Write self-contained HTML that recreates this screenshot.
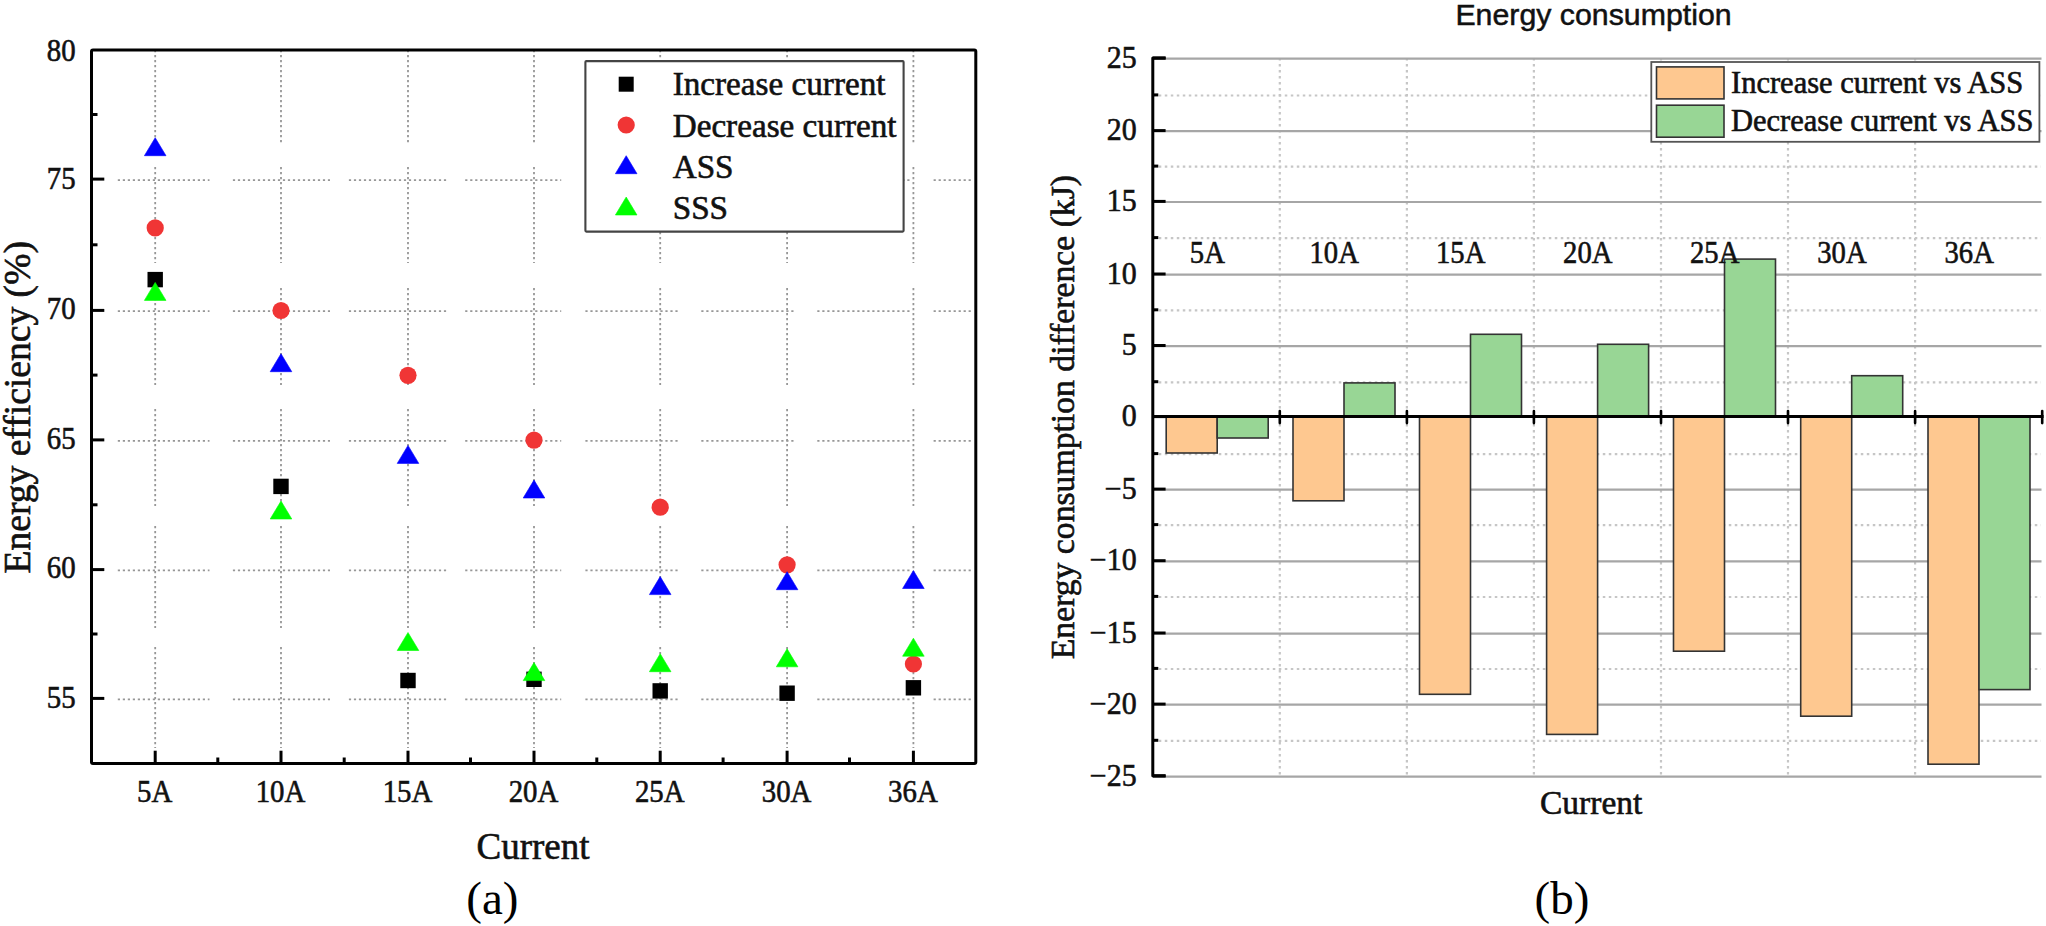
<!DOCTYPE html>
<html><head><meta charset="utf-8"><title>Energy efficiency and consumption</title>
<style>
html,body{margin:0;padding:0;background:#fff;}
svg{display:block;}
.gl{stroke:#979797;stroke-width:1.8;stroke-dasharray:2.2 2.8;}
.gd{stroke:#c6c6c6;stroke-width:2.2;stroke-dasharray:2.5 3.5;}
.gs{stroke:#a6a6a6;stroke-width:2.2;}
.tk{stroke:#000;stroke-width:3;}
text{font-family:"Liberation Serif", "Times New Roman", serif;fill:#111;stroke:#111;stroke-width:0.6px;}
.lt{font-size:30px;}
.lx{font-size:31px;}
.rt{font-size:31.5px;}
.rc{font-size:31px;}
.lyt{font-size:37.6px;}
.ryt{font-size:33.7px;}
.lg{font-size:33.2px;}
.rlg{font-size:30.5px;}
.lat{font-size:37px;}
.rat{font-size:33.5px;}
.cap{font-size:47px;fill:#000;stroke:none;}
.ttl{font-family:"Liberation Sans", Arial, sans-serif;font-size:30.3px;stroke-width:0.5px;}
</style></head>
<body>
<svg width="2046" height="926" viewBox="0 0 2046 926">
<rect width="2046" height="926" fill="#fff"/>
<line x1="155.2" y1="50" x2="155.2" y2="143" class="gl"/>
<line x1="155.2" y1="167" x2="155.2" y2="263" class="gl"/>
<line x1="155.2" y1="288" x2="155.2" y2="385" class="gl"/>
<line x1="155.2" y1="409" x2="155.2" y2="506" class="gl"/>
<line x1="155.2" y1="526" x2="155.2" y2="628" class="gl"/>
<line x1="155.2" y1="647" x2="155.2" y2="748" class="gl"/>
<line x1="281.0" y1="50" x2="281.0" y2="143" class="gl"/>
<line x1="281.0" y1="167" x2="281.0" y2="263" class="gl"/>
<line x1="281.0" y1="288" x2="281.0" y2="385" class="gl"/>
<line x1="281.0" y1="409" x2="281.0" y2="506" class="gl"/>
<line x1="281.0" y1="526" x2="281.0" y2="628" class="gl"/>
<line x1="281.0" y1="647" x2="281.0" y2="748" class="gl"/>
<line x1="408.0" y1="50" x2="408.0" y2="143" class="gl"/>
<line x1="408.0" y1="167" x2="408.0" y2="263" class="gl"/>
<line x1="408.0" y1="288" x2="408.0" y2="385" class="gl"/>
<line x1="408.0" y1="409" x2="408.0" y2="506" class="gl"/>
<line x1="408.0" y1="526" x2="408.0" y2="628" class="gl"/>
<line x1="408.0" y1="647" x2="408.0" y2="748" class="gl"/>
<line x1="534.0" y1="50" x2="534.0" y2="143" class="gl"/>
<line x1="534.0" y1="167" x2="534.0" y2="263" class="gl"/>
<line x1="534.0" y1="288" x2="534.0" y2="385" class="gl"/>
<line x1="534.0" y1="409" x2="534.0" y2="506" class="gl"/>
<line x1="534.0" y1="526" x2="534.0" y2="628" class="gl"/>
<line x1="534.0" y1="647" x2="534.0" y2="748" class="gl"/>
<line x1="660.2" y1="50" x2="660.2" y2="143" class="gl"/>
<line x1="660.2" y1="167" x2="660.2" y2="263" class="gl"/>
<line x1="660.2" y1="288" x2="660.2" y2="385" class="gl"/>
<line x1="660.2" y1="409" x2="660.2" y2="506" class="gl"/>
<line x1="660.2" y1="526" x2="660.2" y2="628" class="gl"/>
<line x1="660.2" y1="647" x2="660.2" y2="748" class="gl"/>
<line x1="787.1" y1="50" x2="787.1" y2="143" class="gl"/>
<line x1="787.1" y1="167" x2="787.1" y2="263" class="gl"/>
<line x1="787.1" y1="288" x2="787.1" y2="385" class="gl"/>
<line x1="787.1" y1="409" x2="787.1" y2="506" class="gl"/>
<line x1="787.1" y1="526" x2="787.1" y2="628" class="gl"/>
<line x1="787.1" y1="647" x2="787.1" y2="748" class="gl"/>
<line x1="913.4" y1="50" x2="913.4" y2="143" class="gl"/>
<line x1="913.4" y1="167" x2="913.4" y2="263" class="gl"/>
<line x1="913.4" y1="288" x2="913.4" y2="385" class="gl"/>
<line x1="913.4" y1="409" x2="913.4" y2="506" class="gl"/>
<line x1="913.4" y1="526" x2="913.4" y2="628" class="gl"/>
<line x1="913.4" y1="647" x2="913.4" y2="748" class="gl"/>
<line x1="117.8" y1="180.1" x2="209.5" y2="180.1" class="gl"/>
<line x1="232.9" y1="180.1" x2="330.0" y2="180.1" class="gl"/>
<line x1="348.9" y1="180.1" x2="446.1" y2="180.1" class="gl"/>
<line x1="465.2" y1="180.1" x2="561.2" y2="180.1" class="gl"/>
<line x1="585.4" y1="180.1" x2="677.8" y2="180.1" class="gl"/>
<line x1="701.3" y1="180.1" x2="793.6" y2="180.1" class="gl"/>
<line x1="817.3" y1="180.1" x2="909.8" y2="180.1" class="gl"/>
<line x1="933.6" y1="180.1" x2="971.1" y2="180.1" class="gl"/>
<line x1="117.8" y1="311.2" x2="209.5" y2="311.2" class="gl"/>
<line x1="232.9" y1="311.2" x2="330.0" y2="311.2" class="gl"/>
<line x1="348.9" y1="311.2" x2="446.1" y2="311.2" class="gl"/>
<line x1="465.2" y1="311.2" x2="561.2" y2="311.2" class="gl"/>
<line x1="585.4" y1="311.2" x2="677.8" y2="311.2" class="gl"/>
<line x1="701.3" y1="311.2" x2="793.6" y2="311.2" class="gl"/>
<line x1="817.3" y1="311.2" x2="909.8" y2="311.2" class="gl"/>
<line x1="933.6" y1="311.2" x2="971.1" y2="311.2" class="gl"/>
<line x1="117.8" y1="440.9" x2="209.5" y2="440.9" class="gl"/>
<line x1="232.9" y1="440.9" x2="330.0" y2="440.9" class="gl"/>
<line x1="348.9" y1="440.9" x2="446.1" y2="440.9" class="gl"/>
<line x1="465.2" y1="440.9" x2="561.2" y2="440.9" class="gl"/>
<line x1="585.4" y1="440.9" x2="677.8" y2="440.9" class="gl"/>
<line x1="701.3" y1="440.9" x2="793.6" y2="440.9" class="gl"/>
<line x1="817.3" y1="440.9" x2="909.8" y2="440.9" class="gl"/>
<line x1="933.6" y1="440.9" x2="971.1" y2="440.9" class="gl"/>
<line x1="117.8" y1="570.4" x2="209.5" y2="570.4" class="gl"/>
<line x1="232.9" y1="570.4" x2="330.0" y2="570.4" class="gl"/>
<line x1="348.9" y1="570.4" x2="446.1" y2="570.4" class="gl"/>
<line x1="465.2" y1="570.4" x2="561.2" y2="570.4" class="gl"/>
<line x1="585.4" y1="570.4" x2="677.8" y2="570.4" class="gl"/>
<line x1="701.3" y1="570.4" x2="793.6" y2="570.4" class="gl"/>
<line x1="817.3" y1="570.4" x2="909.8" y2="570.4" class="gl"/>
<line x1="933.6" y1="570.4" x2="971.1" y2="570.4" class="gl"/>
<line x1="117.8" y1="699.3" x2="209.5" y2="699.3" class="gl"/>
<line x1="232.9" y1="699.3" x2="330.0" y2="699.3" class="gl"/>
<line x1="348.9" y1="699.3" x2="446.1" y2="699.3" class="gl"/>
<line x1="465.2" y1="699.3" x2="561.2" y2="699.3" class="gl"/>
<line x1="585.4" y1="699.3" x2="677.8" y2="699.3" class="gl"/>
<line x1="701.3" y1="699.3" x2="793.6" y2="699.3" class="gl"/>
<line x1="817.3" y1="699.3" x2="909.8" y2="699.3" class="gl"/>
<line x1="933.6" y1="699.3" x2="971.1" y2="699.3" class="gl"/>
<rect x="91.5" y="50" width="884.3" height="713.5" rx="1.5" fill="none" stroke="#000" stroke-width="3" stroke-linejoin="round"/>
<text transform="translate(75.6,60.5) scale(0.93,1)" class="lx" text-anchor="end">80</text>
<line x1="91.5" y1="179.1" x2="104.3" y2="179.1" class="tk"/>
<text transform="translate(75.6,189.2) scale(0.93,1)" class="lx" text-anchor="end">75</text>
<line x1="91.5" y1="310.4" x2="104.3" y2="310.4" class="tk"/>
<text transform="translate(75.6,319.3) scale(0.93,1)" class="lx" text-anchor="end">70</text>
<line x1="91.5" y1="439.9" x2="104.3" y2="439.9" class="tk"/>
<text transform="translate(75.6,448.7) scale(0.93,1)" class="lx" text-anchor="end">65</text>
<line x1="91.5" y1="569.6" x2="104.3" y2="569.6" class="tk"/>
<text transform="translate(75.6,578.3) scale(0.93,1)" class="lx" text-anchor="end">60</text>
<line x1="91.5" y1="698.4" x2="104.3" y2="698.4" class="tk"/>
<text transform="translate(75.6,707.8) scale(0.93,1)" class="lx" text-anchor="end">55</text>
<line x1="91.5" y1="114.5" x2="97.5" y2="114.5" class="tk"/>
<line x1="91.5" y1="244.8" x2="97.5" y2="244.8" class="tk"/>
<line x1="91.5" y1="375.1" x2="97.5" y2="375.1" class="tk"/>
<line x1="91.5" y1="504.8" x2="97.5" y2="504.8" class="tk"/>
<line x1="91.5" y1="634.0" x2="97.5" y2="634.0" class="tk"/>
<line x1="155.2" y1="763.5" x2="155.2" y2="750.7" class="tk"/>
<text transform="translate(154.7,801.9) scale(0.93,1)" class="lx" text-anchor="middle">5A</text>
<line x1="281.0" y1="763.5" x2="281.0" y2="750.7" class="tk"/>
<text transform="translate(280.5,801.9) scale(0.93,1)" class="lx" text-anchor="middle">10A</text>
<line x1="408.0" y1="763.5" x2="408.0" y2="750.7" class="tk"/>
<text transform="translate(407.5,801.9) scale(0.93,1)" class="lx" text-anchor="middle">15A</text>
<line x1="534.0" y1="763.5" x2="534.0" y2="750.7" class="tk"/>
<text transform="translate(533.5,801.9) scale(0.93,1)" class="lx" text-anchor="middle">20A</text>
<line x1="660.2" y1="763.5" x2="660.2" y2="750.7" class="tk"/>
<text transform="translate(659.7,801.9) scale(0.93,1)" class="lx" text-anchor="middle">25A</text>
<line x1="787.1" y1="763.5" x2="787.1" y2="750.7" class="tk"/>
<text transform="translate(786.6,801.9) scale(0.93,1)" class="lx" text-anchor="middle">30A</text>
<line x1="913.4" y1="763.5" x2="913.4" y2="750.7" class="tk"/>
<text transform="translate(912.9,801.9) scale(0.93,1)" class="lx" text-anchor="middle">36A</text>
<line x1="217.8" y1="763.5" x2="217.8" y2="757.5" class="tk"/>
<line x1="344.2" y1="763.5" x2="344.2" y2="757.5" class="tk"/>
<line x1="470.5" y1="763.5" x2="470.5" y2="757.5" class="tk"/>
<line x1="596.8" y1="763.5" x2="596.8" y2="757.5" class="tk"/>
<line x1="723.1" y1="763.5" x2="723.1" y2="757.5" class="tk"/>
<line x1="849.5" y1="763.5" x2="849.5" y2="757.5" class="tk"/>
<rect x="147.5" y="271.9" width="15.4" height="15.4" fill="#000"/>
<rect x="273.3" y="478.7" width="15.4" height="15.4" fill="#000"/>
<rect x="400.3" y="672.8" width="15.4" height="15.4" fill="#000"/>
<rect x="526.3" y="671.6" width="15.4" height="15.4" fill="#000"/>
<rect x="652.5" y="683.2" width="15.4" height="15.4" fill="#000"/>
<rect x="779.4" y="685.5" width="15.4" height="15.4" fill="#000"/>
<rect x="905.7" y="680.1" width="15.4" height="15.4" fill="#000"/>
<circle cx="155.2" cy="227.9" r="8.6" fill="#f03535"/>
<circle cx="281.0" cy="310.5" r="8.6" fill="#f03535"/>
<circle cx="408.0" cy="375.3" r="8.6" fill="#f03535"/>
<circle cx="534.0" cy="440.1" r="8.6" fill="#f03535"/>
<circle cx="660.2" cy="507.2" r="8.6" fill="#f03535"/>
<circle cx="787.1" cy="564.8" r="8.6" fill="#f03535"/>
<circle cx="913.4" cy="664.0" r="8.6" fill="#f03535"/>
<polygon points="155.2,137.7 166.0,155.7 144.4,155.7" fill="#0000ff" stroke="#0000ff" stroke-width="0.6" stroke-linejoin="round"/>
<polygon points="281.0,353.7 291.8,371.7 270.2,371.7" fill="#0000ff" stroke="#0000ff" stroke-width="0.6" stroke-linejoin="round"/>
<polygon points="408.0,445.4 418.8,463.4 397.2,463.4" fill="#0000ff" stroke="#0000ff" stroke-width="0.6" stroke-linejoin="round"/>
<polygon points="534.0,480.0 544.8,498.0 523.2,498.0" fill="#0000ff" stroke="#0000ff" stroke-width="0.6" stroke-linejoin="round"/>
<polygon points="660.2,576.6 671.0,594.6 649.4,594.6" fill="#0000ff" stroke="#0000ff" stroke-width="0.6" stroke-linejoin="round"/>
<polygon points="787.1,571.7 797.9,589.7 776.3,589.7" fill="#0000ff" stroke="#0000ff" stroke-width="0.6" stroke-linejoin="round"/>
<polygon points="913.4,570.5 924.2,588.5 902.6,588.5" fill="#0000ff" stroke="#0000ff" stroke-width="0.6" stroke-linejoin="round"/>
<polygon points="155.2,282.4 166.0,300.4 144.4,300.4" fill="#00ff00" stroke="#00ff00" stroke-width="0.6" stroke-linejoin="round"/>
<polygon points="281.0,501.0 291.8,519.0 270.2,519.0" fill="#00ff00" stroke="#00ff00" stroke-width="0.6" stroke-linejoin="round"/>
<polygon points="408.0,632.5 418.8,650.5 397.2,650.5" fill="#00ff00" stroke="#00ff00" stroke-width="0.6" stroke-linejoin="round"/>
<polygon points="534.0,662.6 544.8,680.6 523.2,680.6" fill="#00ff00" stroke="#00ff00" stroke-width="0.6" stroke-linejoin="round"/>
<polygon points="660.2,653.7 671.0,671.7 649.4,671.7" fill="#00ff00" stroke="#00ff00" stroke-width="0.6" stroke-linejoin="round"/>
<polygon points="787.1,648.8 797.9,666.8 776.3,666.8" fill="#00ff00" stroke="#00ff00" stroke-width="0.6" stroke-linejoin="round"/>
<polygon points="913.4,638.2 924.2,656.2 902.6,656.2" fill="#00ff00" stroke="#00ff00" stroke-width="0.6" stroke-linejoin="round"/>
<rect x="585.4" y="61.1" width="318.2" height="170.5" rx="1" fill="#fff" stroke="#444" stroke-width="2.1"/>
<rect x="618.7" y="76.7" width="15" height="15" fill="#000"/>
<circle cx="626.2" cy="125" r="8.6" fill="#f03535"/>
<polygon points="626.2,155.7 637.0,173.7 615.4,173.7" fill="#0000ff" stroke="#0000ff" stroke-width="0.6" stroke-linejoin="round"/>
<polygon points="626.2,197.0 637.0,215.0 615.4,215.0" fill="#00ff00" stroke="#00ff00" stroke-width="0.6" stroke-linejoin="round"/>
<text x="672.7" y="95.2" class="lg">Increase current</text>
<text x="672.7" y="137.2" class="lg">Decrease current</text>
<text x="672.7" y="178.0" class="lg">ASS</text>
<text x="672.7" y="218.8" class="lg">SSS</text>
<text x="533" y="859.4" class="lat" text-anchor="middle">Current</text>
<text transform="translate(30,407.3) rotate(-90)" class="lyt" text-anchor="middle">Energy efficiency (%)</text>
<text x="492.4" y="913.5" class="cap" text-anchor="middle">(a)</text>
<line x1="1279.8" y1="58.1" x2="1279.8" y2="775.7" class="gd"/>
<line x1="1406.9" y1="58.1" x2="1406.9" y2="775.7" class="gd"/>
<line x1="1533.9" y1="58.1" x2="1533.9" y2="775.7" class="gd"/>
<line x1="1661.0" y1="58.1" x2="1661.0" y2="775.7" class="gd"/>
<line x1="1788.0" y1="58.1" x2="1788.0" y2="775.7" class="gd"/>
<line x1="1915.1" y1="58.1" x2="1915.1" y2="775.7" class="gd"/>
<line x1="1152.8" y1="95.5" x2="2041" y2="95.5" class="gd"/>
<line x1="1152.8" y1="166.7" x2="2041" y2="166.7" class="gd"/>
<line x1="1152.8" y1="238.2" x2="2041" y2="238.2" class="gd"/>
<line x1="1152.8" y1="310.4" x2="2041" y2="310.4" class="gd"/>
<line x1="1152.8" y1="382.3" x2="2041" y2="382.3" class="gd"/>
<line x1="1152.8" y1="454.2" x2="2041" y2="454.2" class="gd"/>
<line x1="1152.8" y1="525.2" x2="2041" y2="525.2" class="gd"/>
<line x1="1152.8" y1="597.0" x2="2041" y2="597.0" class="gd"/>
<line x1="1152.8" y1="669.0" x2="2041" y2="669.0" class="gd"/>
<line x1="1152.8" y1="740.9" x2="2041" y2="740.9" class="gd"/>
<line x1="1152.8" y1="58.7" x2="2041.5" y2="58.7" class="gs"/>
<line x1="1152.8" y1="131.2" x2="2041.5" y2="131.2" class="gs"/>
<line x1="1152.8" y1="202.0" x2="2041.5" y2="202.0" class="gs"/>
<line x1="1152.8" y1="274.6" x2="2041.5" y2="274.6" class="gs"/>
<line x1="1152.8" y1="346.1" x2="2041.5" y2="346.1" class="gs"/>
<line x1="1152.8" y1="489.7" x2="2041.5" y2="489.7" class="gs"/>
<line x1="1152.8" y1="561.3" x2="2041.5" y2="561.3" class="gs"/>
<line x1="1152.8" y1="633.6" x2="2041.5" y2="633.6" class="gs"/>
<line x1="1152.8" y1="704.7" x2="2041.5" y2="704.7" class="gs"/>
<line x1="1152.8" y1="776.6" x2="2041.5" y2="776.6" class="gs"/>
<rect x="1166.2" y="416.6" width="51" height="36.4" fill="#fec890" stroke="#333" stroke-width="1.6"/>
<rect x="1217.2" y="416.6" width="51" height="21.4" fill="#98d695" stroke="#333" stroke-width="1.6"/>
<rect x="1293.0" y="416.6" width="51" height="84.2" fill="#fec890" stroke="#333" stroke-width="1.6"/>
<rect x="1344.0" y="382.9" width="51" height="33.7" fill="#98d695" stroke="#333" stroke-width="1.6"/>
<rect x="1419.5" y="416.6" width="51" height="277.7" fill="#fec890" stroke="#333" stroke-width="1.6"/>
<rect x="1470.5" y="334.3" width="51" height="82.3" fill="#98d695" stroke="#333" stroke-width="1.6"/>
<rect x="1546.6" y="416.6" width="51" height="317.8" fill="#fec890" stroke="#333" stroke-width="1.6"/>
<rect x="1597.6" y="344.3" width="51" height="72.3" fill="#98d695" stroke="#333" stroke-width="1.6"/>
<rect x="1673.5" y="416.6" width="51" height="234.6" fill="#fec890" stroke="#333" stroke-width="1.6"/>
<rect x="1724.5" y="259.1" width="51" height="157.5" fill="#98d695" stroke="#333" stroke-width="1.6"/>
<rect x="1800.7" y="416.6" width="51" height="299.6" fill="#fec890" stroke="#333" stroke-width="1.6"/>
<rect x="1851.7" y="375.7" width="51" height="40.9" fill="#98d695" stroke="#333" stroke-width="1.6"/>
<rect x="1928.0" y="416.6" width="51" height="347.6" fill="#fec890" stroke="#333" stroke-width="1.6"/>
<rect x="1979.0" y="416.6" width="51" height="273.0" fill="#98d695" stroke="#333" stroke-width="1.6"/>
<line x1="1152.8" y1="416.6" x2="2043.6" y2="416.6" stroke="#000" stroke-width="3"/>
<line x1="1279.8" y1="411.1" x2="1279.8" y2="423.1" stroke="#000" stroke-width="2.6" stroke-linecap="round"/>
<line x1="1406.9" y1="411.1" x2="1406.9" y2="423.1" stroke="#000" stroke-width="2.6" stroke-linecap="round"/>
<line x1="1533.9" y1="411.1" x2="1533.9" y2="423.1" stroke="#000" stroke-width="2.6" stroke-linecap="round"/>
<line x1="1661.0" y1="411.1" x2="1661.0" y2="423.1" stroke="#000" stroke-width="2.6" stroke-linecap="round"/>
<line x1="1788.0" y1="411.1" x2="1788.0" y2="423.1" stroke="#000" stroke-width="2.6" stroke-linecap="round"/>
<line x1="1915.1" y1="411.1" x2="1915.1" y2="423.1" stroke="#000" stroke-width="2.6" stroke-linecap="round"/>
<line x1="2042.2" y1="411.1" x2="2042.2" y2="423.1" stroke="#000" stroke-width="2.6" stroke-linecap="round"/>
<path d="M1165.6,58.1 H1152.8 V775.7 H1165.6" fill="none" stroke="#000" stroke-width="3" stroke-linejoin="round"/>
<line x1="1152.8" y1="58.1" x2="1165.6" y2="58.1" class="tk"/>
<text transform="translate(1136.6,67.7) scale(0.95,1)" class="rt" text-anchor="end">25</text>
<line x1="1152.8" y1="130.6" x2="1165.6" y2="130.6" class="tk"/>
<text transform="translate(1136.6,140.2) scale(0.95,1)" class="rt" text-anchor="end">20</text>
<line x1="1152.8" y1="201.4" x2="1165.6" y2="201.4" class="tk"/>
<text transform="translate(1136.6,211.0) scale(0.95,1)" class="rt" text-anchor="end">15</text>
<line x1="1152.8" y1="274.0" x2="1165.6" y2="274.0" class="tk"/>
<text transform="translate(1136.6,283.6) scale(0.95,1)" class="rt" text-anchor="end">10</text>
<line x1="1152.8" y1="345.5" x2="1165.6" y2="345.5" class="tk"/>
<text transform="translate(1136.6,355.1) scale(0.95,1)" class="rt" text-anchor="end">5</text>
<line x1="1152.8" y1="416.6" x2="1165.6" y2="416.6" class="tk"/>
<text transform="translate(1136.6,426.2) scale(0.95,1)" class="rt" text-anchor="end">0</text>
<line x1="1152.8" y1="489.1" x2="1165.6" y2="489.1" class="tk"/>
<text transform="translate(1136.6,498.7) scale(0.95,1)" class="rt" text-anchor="end">−5</text>
<line x1="1152.8" y1="560.7" x2="1165.6" y2="560.7" class="tk"/>
<text transform="translate(1136.6,570.3) scale(0.95,1)" class="rt" text-anchor="end">−10</text>
<line x1="1152.8" y1="633.0" x2="1165.6" y2="633.0" class="tk"/>
<text transform="translate(1136.6,642.6) scale(0.95,1)" class="rt" text-anchor="end">−15</text>
<line x1="1152.8" y1="704.1" x2="1165.6" y2="704.1" class="tk"/>
<text transform="translate(1136.6,713.7) scale(0.95,1)" class="rt" text-anchor="end">−20</text>
<line x1="1152.8" y1="776.0" x2="1165.6" y2="776.0" class="tk"/>
<text transform="translate(1136.6,785.6) scale(0.95,1)" class="rt" text-anchor="end">−25</text>
<line x1="1152.8" y1="94.9" x2="1158.3" y2="94.9" class="tk"/>
<line x1="1152.8" y1="166.1" x2="1158.3" y2="166.1" class="tk"/>
<line x1="1152.8" y1="237.6" x2="1158.3" y2="237.6" class="tk"/>
<line x1="1152.8" y1="309.8" x2="1158.3" y2="309.8" class="tk"/>
<line x1="1152.8" y1="381.7" x2="1158.3" y2="381.7" class="tk"/>
<line x1="1152.8" y1="453.6" x2="1158.3" y2="453.6" class="tk"/>
<line x1="1152.8" y1="524.6" x2="1158.3" y2="524.6" class="tk"/>
<line x1="1152.8" y1="596.4" x2="1158.3" y2="596.4" class="tk"/>
<line x1="1152.8" y1="668.4" x2="1158.3" y2="668.4" class="tk"/>
<line x1="1152.8" y1="740.3" x2="1158.3" y2="740.3" class="tk"/>
<text transform="translate(1207.4,262.6) scale(0.925,1)" class="rc" text-anchor="middle">5A</text>
<text transform="translate(1334.2,262.6) scale(0.925,1)" class="rc" text-anchor="middle">10A</text>
<text transform="translate(1460.7,262.6) scale(0.925,1)" class="rc" text-anchor="middle">15A</text>
<text transform="translate(1587.8,262.6) scale(0.925,1)" class="rc" text-anchor="middle">20A</text>
<text transform="translate(1714.7,262.6) scale(0.925,1)" class="rc" text-anchor="middle">25A</text>
<text transform="translate(1841.9,262.6) scale(0.925,1)" class="rc" text-anchor="middle">30A</text>
<text transform="translate(1969.2,262.6) scale(0.925,1)" class="rc" text-anchor="middle">36A</text>
<rect x="1651.3" y="62.0" width="388.1" height="79.8" fill="#fff" stroke="#555" stroke-width="1.8"/>
<rect x="1656.5" y="66.9" width="67.5" height="32" fill="#fec890" stroke="#333" stroke-width="1.6"/>
<rect x="1656.5" y="105.2" width="67.5" height="32" fill="#98d695" stroke="#333" stroke-width="1.6"/>
<text x="1731" y="92.8" class="rlg">Increase current vs ASS</text>
<text x="1731" y="131.4" class="rlg">Decrease current vs ASS</text>
<text x="1593.5" y="25" class="ttl" text-anchor="middle">Energy consumption</text>
<text x="1591.2" y="814" class="rat" text-anchor="middle">Current</text>
<text transform="translate(1073.5,417.1) rotate(-90)" class="ryt" text-anchor="middle">Energy consumption difference (kJ)</text>
<text x="1562" y="914" class="cap" text-anchor="middle">(b)</text>
</svg>
</body></html>
